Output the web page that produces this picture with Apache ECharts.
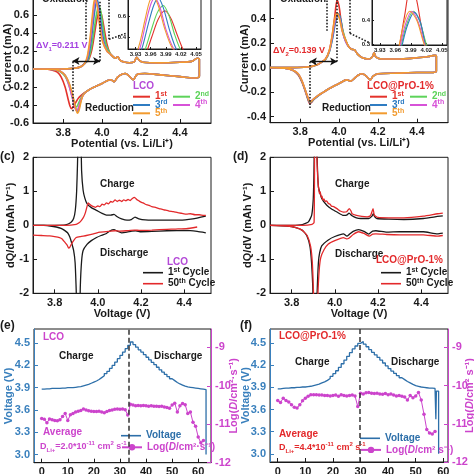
<!DOCTYPE html>
<html>
<head>
<meta charset="utf-8">
<title>CV, dQ/dV and GITT</title>
<script src="https://cdn.jsdelivr.net/npm/echarts@6.0.0/dist/echarts.min.js"></script>
<style>
  html, body { margin: 0; padding: 0; background: #fff; }
  #chart { width: 474px; height: 474px; }
</style>
</head>
<body>
<div id="chart"></div>
<script>
const FONT = "'Liberation Sans', Arial, sans-serif";

// ---------- tick values ----------
const cvTicksX = [3.8, 4.0, 4.2, 4.4];
const cvTicksYA = [-0.6, -0.4, -0.2, 0, 0.2, 0.4, 0.6];
const cvTicksYB = [-0.4, -0.2, 0, 0.2, 0.4];
const insetTicksX = [3.93, 3.96, 3.99, 4.02, 4.05];
const insetTicksYA = [0.4, 0.6];
const insetTicksYB = [0.3, 0.4];
const dqTicksY = [-2, -1, 0, 1, 2];
const gittTicksX = [0, 10, 20, 30, 40, 50, 60];
const voltTicks = [3.0, 3.3, 3.6, 3.9, 4.2, 4.5];
const logTicks = [-12, -11, -10, -9];

// ---------- (a) CV of LCO, cycles 1-5 ----------
const cycleNames = ['1st', '2nd', '3rd', '4th', '5th'];
const cycleColors = ['#e4322b', '#5dd35a', '#2f7cc2', '#d752d8', '#f29b2f'];

const aStart = [[3.645, 0], [3.75, 0], [3.82, 0.002], [3.86, 0.008], [3.89, 0.025], [3.91, 0.06]];
const aOx1 = [[3.93, 0.1], [3.948, 0.22], [3.962, 0.4], [3.975, 0.57], [3.988, 0.65], [4.0, 0.58], [4.013, 0.42], [4.026, 0.27], [4.04, 0.18]];
const aOx2 = [[3.93, 0.11], [3.947, 0.26], [3.96, 0.45], [3.973, 0.63], [3.985, 0.7], [3.996, 0.61], [4.008, 0.42], [4.022, 0.26], [4.04, 0.18]];
const aOx3 = [[3.928, 0.12], [3.943, 0.3], [3.955, 0.52], [3.966, 0.7], [3.975, 0.77], [3.985, 0.68], [3.998, 0.46], [4.012, 0.28], [4.03, 0.19], [4.04, 0.17]];
const aOx4 = [[3.925, 0.13], [3.94, 0.32], [3.951, 0.55], [3.961, 0.72], [3.968, 0.77], [3.978, 0.69], [3.99, 0.48], [4.005, 0.3], [4.025, 0.2], [4.04, 0.17]];
const aOx5 = [[3.924, 0.14], [3.938, 0.34], [3.949, 0.57], [3.958, 0.74], [3.965, 0.78], [3.975, 0.7], [3.988, 0.48], [4.003, 0.3], [4.025, 0.2], [4.04, 0.17]];
const aTail = [[4.055, 0.14], [4.068, 0.12], [4.08, 0.135], [4.092, 0.1], [4.11, 0.08], [4.14, 0.07], [4.165, 0.08], [4.178, 0.13],
  [4.19, 0.1], [4.21, 0.075], [4.3, 0.068], [4.4, 0.075], [4.46, 0.085], [4.49, 0.12], [4.5, 0.11], [4.5, -0.08], [4.47, -0.1],
  [4.4, -0.085], [4.3, -0.065], [4.22, -0.05], [4.18, -0.06], [4.16, -0.12], [4.14, -0.08], [4.12, -0.05], [4.1, -0.06],
  [4.08, -0.09], [4.062, -0.14], [4.045, -0.12], [4.0, -0.16], [3.95, -0.21], [3.92, -0.25]];
const aRed1 = [[3.9, -0.28], [3.88, -0.32], [3.865, -0.37], [3.852, -0.42], [3.843, -0.44], [3.835, -0.41], [3.825, -0.33], [3.81, -0.2], [3.79, -0.09], [3.77, -0.035], [3.74, -0.01], [3.7, 0], [3.645, 0]];
const aRed2 = [[3.9, -0.29], [3.885, -0.35], [3.873, -0.41], [3.866, -0.42], [3.857, -0.39], [3.845, -0.3], [3.83, -0.18], [3.81, -0.08], [3.785, -0.03], [3.75, -0.005], [3.645, 0]];
const aRed3 = [[3.9, -0.3], [3.888, -0.38], [3.878, -0.46], [3.871, -0.47], [3.862, -0.42], [3.848, -0.3], [3.83, -0.16], [3.81, -0.07], [3.785, -0.025], [3.75, -0.005], [3.645, 0]];
const aRed4 = [[3.9, -0.3], [3.886, -0.38], [3.875, -0.45], [3.868, -0.46], [3.858, -0.41], [3.845, -0.3], [3.828, -0.17], [3.81, -0.07], [3.785, -0.025], [3.75, -0.005], [3.645, 0]];
const aRed5 = [[3.9, -0.3], [3.889, -0.39], [3.88, -0.47], [3.874, -0.49], [3.866, -0.45], [3.852, -0.32], [3.833, -0.17], [3.81, -0.07], [3.785, -0.025], [3.75, -0.005], [3.645, 0]];

// ---------- (b) CV of LCO@PrO-1%, cycles 1-5 ----------
const bStart = [[3.645, 0], [3.75, 0], [3.82, 0.003], [3.86, 0.01], [3.89, 0.025], [3.91, 0.045]];
const bOx1 = [[3.93, 0.07], [3.95, 0.14], [3.965, 0.26], [3.978, 0.42], [3.99, 0.55], [4.0, 0.5], [4.012, 0.36], [4.025, 0.26], [4.04, 0.2]];
const bOx2 = [[3.93, 0.065], [3.95, 0.13], [3.966, 0.24], [3.98, 0.37], [3.995, 0.44], [4.007, 0.4], [4.02, 0.3], [4.035, 0.22]];
const bOx3 = [[3.93, 0.065], [3.95, 0.13], [3.967, 0.24], [3.982, 0.37], [3.997, 0.435], [4.009, 0.39], [4.02, 0.28], [4.035, 0.21]];
const bOx4 = [[3.93, 0.067], [3.95, 0.135], [3.965, 0.25], [3.979, 0.38], [3.992, 0.44], [4.005, 0.39], [4.018, 0.29], [4.035, 0.21]];
const bOx5 = [[3.93, 0.068], [3.95, 0.14], [3.964, 0.26], [3.977, 0.39], [3.988, 0.44], [4.002, 0.4], [4.016, 0.3], [4.035, 0.22]];
const bTail = [[4.05, 0.17], [4.065, 0.15], [4.08, 0.145], [4.095, 0.11], [4.12, 0.08], [4.15, 0.07], [4.17, 0.085], [4.18, 0.12],
  [4.19, 0.085], [4.22, 0.07], [4.3, 0.07], [4.4, 0.08], [4.46, 0.09], [4.49, 0.1], [4.5, 0.095], [4.5, -0.03], [4.47, -0.04],
  [4.4, -0.04], [4.3, -0.045], [4.2, -0.05], [4.175, -0.07], [4.16, -0.1], [4.14, -0.07], [4.12, -0.05], [4.1, -0.06],
  [4.08, -0.085], [4.06, -0.11], [4.04, -0.1], [4.0, -0.13], [3.95, -0.17], [3.92, -0.2]];
const bRed1 = [[3.89, -0.23], [3.87, -0.26], [3.858, -0.285], [3.85, -0.295], [3.842, -0.27], [3.83, -0.21], [3.81, -0.12], [3.79, -0.06], [3.76, -0.02], [3.72, -0.005], [3.645, 0]];
const bRed2 = [[3.89, -0.23], [3.87, -0.255], [3.858, -0.275], [3.852, -0.28], [3.844, -0.265], [3.83, -0.2], [3.81, -0.115], [3.79, -0.055], [3.76, -0.02], [3.72, -0.005], [3.645, 0]];
const bRed3 = [[3.89, -0.235], [3.87, -0.26], [3.858, -0.28], [3.852, -0.285], [3.844, -0.27], [3.83, -0.205], [3.81, -0.115], [3.79, -0.055], [3.76, -0.02], [3.72, -0.005], [3.645, 0]];
const bRed4 = [[3.89, -0.23], [3.87, -0.255], [3.858, -0.27], [3.853, -0.275], [3.845, -0.26], [3.83, -0.2], [3.81, -0.11], [3.79, -0.05], [3.76, -0.02], [3.72, -0.005], [3.645, 0]];
const bRed5 = [[3.89, -0.23], [3.87, -0.255], [3.858, -0.275], [3.853, -0.28], [3.845, -0.265], [3.83, -0.2], [3.81, -0.11], [3.79, -0.05], [3.76, -0.02], [3.72, -0.005], [3.645, 0]];

// ---------- (c) dQ/dV of LCO ----------
const c1Charge = [[3.7, 0], [3.8, 0], [3.85, 0.01], [3.875, 0.08], [3.888, 0.2], [3.896, 0.45], [3.902, 1.0], [3.906, 1.8], [3.909, 2.6],
  [3.915, 3], [3.922, 2.6], [3.925, 1.6], [3.932, 1.03], [3.94, 0.8], [3.95, 0.64], [3.97, 0.52], [3.994, 0.44], [4.02, 0.35],
  [4.04, 0.3], [4.06, 0.3], [4.075, 0.32], [4.09, 0.25], [4.11, 0.19], [4.135, 0.15], [4.155, 0.17], [4.172, 0.24], [4.19, 0.19],
  [4.22, 0.16], [4.29, 0.15], [4.38, 0.15], [4.44, 0.19], [4.5, 0.27]];
const c50Charge = [[3.7, 0], [3.85, 0], [3.9, 0.03], [3.915, 0.08], [3.925, 0.15], [3.935, 0.25], [3.943, 0.38], [3.95, 0.55],
  [3.955, 0.66], [3.962, 0.62], [3.97, 0.58], [3.98, 0.55], [3.99, 0.53], [4.0, 0.57], [4.01, 0.55], [4.02, 0.62], [4.03, 0.6],
  [4.04, 0.66], [4.05, 0.63], [4.06, 0.7], [4.07, 0.68], [4.08, 0.75], [4.09, 0.7], [4.1, 0.74], [4.11, 0.7], [4.12, 0.75],
  [4.13, 0.72], [4.14, 0.76], [4.15, 0.73], [4.16, 0.79], [4.17, 0.82], [4.18, 0.76], [4.19, 0.72], [4.2, 0.68], [4.21, 0.66],
  [4.22, 0.62], [4.23, 0.6], [4.24, 0.58], [4.25, 0.55], [4.27, 0.52], [4.29, 0.48], [4.31, 0.45], [4.33, 0.42], [4.35, 0.4],
  [4.37, 0.37], [4.39, 0.35], [4.41, 0.33], [4.43, 0.34], [4.45, 0.31], [4.47, 0.31], [4.49, 0.29], [4.5, 0.29]];
const c1Discharge = [[4.5, -0.22], [4.46, -0.18], [4.41, -0.15], [4.32, -0.16], [4.25, -0.18], [4.2, -0.19], [4.175, -0.16],
  [4.157, -0.17], [4.135, -0.2], [4.11, -0.22], [4.09, -0.17], [4.075, -0.13], [4.055, -0.17], [4.04, -0.24], [4.015, -0.3],
  [3.994, -0.36], [3.97, -0.45], [3.95, -0.56], [3.932, -0.74], [3.925, -1.05], [3.919, -1.8], [3.915, -3], [3.905, -3],
  [3.9, -1.9], [3.895, -1.1], [3.888, -0.74], [3.878, -0.5], [3.87, -0.34], [3.86, -0.22], [3.846, -0.15], [3.83, -0.09],
  [3.808, -0.05], [3.78, -0.02], [3.75, -0.005], [3.7, 0]];
const c50Discharge = [[4.46, -0.05], [4.41, -0.1], [4.36, -0.11], [4.32, -0.12], [4.25, -0.14], [4.195, -0.15], [4.17, -0.14],
  [4.13, -0.16], [4.1, -0.17], [4.08, -0.16], [4.05, -0.18], [4.01, -0.2], [3.98, -0.25], [3.947, -0.3], [3.92, -0.33],
  [3.9, -0.36], [3.888, -0.45], [3.878, -0.55], [3.87, -0.65], [3.865, -0.67], [3.858, -0.58], [3.846, -0.49], [3.835, -0.4],
  [3.823, -0.36], [3.8, -0.33], [3.777, -0.31], [3.74, -0.3], [3.7, -0.29]];

// ---------- (d) dQ/dV of LCO@PrO-1% ----------
const d1Charge = [[3.7, 0], [3.8, 0], [3.85, 0.02], [3.878, 0.1], [3.893, 0.3], [3.9, 0.74], [3.903, 1.4], [3.905, 2.2], [3.908, 3],
  [3.914, 3], [3.918, 2.0], [3.924, 1.13], [3.94, 0.78], [3.963, 0.59], [3.985, 0.48], [4.01, 0.39], [4.04, 0.29], [4.055, 0.3],
  [4.066, 0.36], [4.078, 0.29], [4.1, 0.22], [4.12, 0.2], [4.157, 0.2], [4.172, 0.27], [4.178, 0.34], [4.185, 0.25], [4.195, 0.2],
  [4.25, 0.18], [4.32, 0.17], [4.41, 0.2], [4.475, 0.26], [4.5, 0.28]];
const d50Charge = [[3.7, 0], [3.8, 0], [3.85, 0], [3.895, 0.03], [3.904, 0.08], [3.906, 1.5], [3.907, 3], [3.914, 3], [3.917, 2.0],
  [3.922, 1.3], [3.929, 0.93], [3.933, 0.98], [3.937, 0.82], [3.941, 0.86], [3.944, 0.74], [3.95, 0.78], [3.955, 0.7],
  [3.962, 0.72], [3.97, 0.64], [3.978, 0.62], [3.985, 0.56], [3.995, 0.55], [4.01, 0.49], [4.025, 0.42], [4.04, 0.39],
  [4.055, 0.4], [4.067, 0.49], [4.075, 0.42], [4.08, 0.34], [4.1, 0.29], [4.125, 0.26], [4.15, 0.25], [4.165, 0.28],
  [4.172, 0.4], [4.177, 0.49], [4.183, 0.3], [4.2, 0.23], [4.25, 0.22], [4.32, 0.22], [4.41, 0.27], [4.475, 0.34], [4.5, 0.36]];
const d1Discharge = [[4.5, -0.23], [4.475, -0.25], [4.41, -0.19], [4.3, -0.19], [4.24, -0.2], [4.19, -0.16], [4.175, -0.17],
  [4.157, -0.26], [4.135, -0.18], [4.11, -0.13], [4.085, -0.18], [4.068, -0.26], [4.056, -0.32], [4.04, -0.25], [4.0, -0.33],
  [3.97, -0.43], [3.94, -0.6], [3.93, -0.8], [3.924, -1.1], [3.918, -2], [3.914, -3], [3.903, -3], [3.898, -1.8], [3.893, -1.15],
  [3.885, -0.62], [3.87, -0.3], [3.85, -0.15], [3.82, -0.07], [3.78, -0.02], [3.7, 0]];
const d50Discharge = [[4.5, -0.3], [4.475, -0.32], [4.41, -0.28], [4.3, -0.28], [4.24, -0.27], [4.19, -0.25], [4.175, -0.26],
  [4.16, -0.32], [4.135, -0.24], [4.11, -0.19], [4.085, -0.27], [4.065, -0.38], [4.055, -0.4], [4.04, -0.36], [4.0, -0.45],
  [3.97, -0.55], [3.95, -0.72], [3.935, -0.95], [3.928, -1.3], [3.922, -2], [3.918, -3], [3.906, -3], [3.901, -1.9],
  [3.896, -1.1], [3.888, -0.62], [3.872, -0.3], [3.85, -0.15], [3.82, -0.07], [3.78, -0.02], [3.7, 0]];

// ---------- (e) GITT of LCO: one value per titration step ----------
const eVolt = [3.88, 3.885, 3.885, 3.89, 3.89, 3.89, 3.89, 3.895, 3.895, 3.9, 3.9, 3.9, 3.905,
  3.91, 3.915, 3.925, 3.935, 3.945, 3.96, 3.975, 3.99, 4.01, 4.035, 4.06, 4.09, 4.12, 4.16, 4.2, 4.245, 4.29, 4.335, 4.38, 4.425, 4.47, 4.515,
  4.48, 4.445, 4.41, 4.38, 4.345, 4.31, 4.275, 4.24, 4.21, 4.175, 4.14, 4.11, 4.08, 4.05, 4.02, 3.995, 3.97, 3.95, 3.935, 3.92,
  3.91, 3.905, 3.9, 3.895, 3.89, 3.885, 3.88, 3.875];
const eVoltEnd = [[63, 3.0]];
const eLogD = [-10.85, -10.87, -10.96, -10.86, -10.88, -10.9, -10.91, -10.88, -10.8, -10.72, -10.9, -10.75, -10.72, -10.68,
  -10.66, -10.64, -10.6, -10.63, -10.65, -10.66, -10.67, -10.67, -10.66, -10.68, -10.7, -10.67, -10.64, -10.63, -10.61, -10.6,
  -10.61, -10.6, -10.62, -10.76, -10.48, -10.5, -10.52, -10.51, -10.52, -10.51, -10.52, -10.53, -10.52, -10.53, -10.53, -10.54,
  -10.53, -10.55, -10.56, -10.58, -10.5, -10.45, -10.68, -10.52, -10.46, -10.49, -10.72, -10.68, -10.95, -11.05, -11.33, -11.48, -11.42];

// ---------- (f) GITT of LCO@PrO-1% ----------
const fVolt = [3.88, 3.885, 3.89, 3.89, 3.895, 3.895, 3.9, 3.9, 3.905, 3.905, 3.91, 3.915, 3.925,
  3.935, 3.945, 3.96, 3.975, 3.995, 4.02, 4.05, 4.085, 4.125, 4.17, 4.22, 4.27, 4.32, 4.37, 4.42, 4.46, 4.495, 4.52,
  4.485, 4.45, 4.41, 4.375, 4.34, 4.305, 4.27, 4.23, 4.19, 4.155, 4.12, 4.09, 4.06, 4.03, 4.005, 3.98, 3.96, 3.94, 3.925,
  3.915, 3.905, 3.9, 3.895, 3.89, 3.89, 3.885, 3.88];
const fVoltEnd = [[57.3, 3.47], [57.5, 3.85], [58.3, 3.85], [58.3, 3.0]];
const fLogD = [-10.39, -10.44, -10.33, -10.39, -10.43, -10.5, -10.57, -10.59, -10.5, -10.4, -10.33, -10.28, -10.24, -10.24,
  -10.24, -10.25, -10.25, -10.26, -10.26, -10.27, -10.26, -10.25, -10.28, -10.24, -10.26, -10.27, -10.26, -10.25, -10.27,
  -10.55, -10.2, -10.22, -10.19, -10.18, -10.2, -10.21, -10.2, -10.22, -10.23, -10.21, -10.24, -10.22, -10.25, -10.27,
  -10.26, -10.28, -10.3, -10.38, -10.26, -10.32, -10.27, -10.18, -10.38, -10.75, -11.15, -11.24, -11.27, -11.2];

// ---------- colours ----------
const BLACK = '#1a1a1a';
const RED = '#e3292b';
const PURPLE = '#a340e0';
const MAGENTA = '#cc44cc';
const VOLT_BLUE = '#2d6fa9';
const AXIS_BLUE = '#3a80bd';

const aCycles = [[aOx1, aRed1], [aOx2, aRed2], [aOx3, aRed3], [aOx4, aRed4], [aOx5, aRed5]];
const bCycles = [[bOx1, bRed1], [bOx2, bRed2], [bOx3, bRed3], [bOx4, bRed4], [bOx5, bRed5]];

function font(size) {
  return { fontFamily: FONT, fontWeight: 'bold', fontSize: size };
}

function valueAxis(grid, min, max, ticks, digits, opts) {
  const o = opts || {};
  const color = o.color || BLACK;
  const size = o.size || 11;
  return Object.assign({
    type: 'value', gridIndex: grid, min: min, max: max,
    axisLine: { show: true, onZero: false, lineStyle: { color: color, width: 1 } },
    axisTick: { show: true, inside: true, length: o.tick || 4, customValues: ticks, lineStyle: { color: color } },
    axisLabel: Object.assign({ customValues: ticks, margin: o.margin || 4, color: color,
      formatter: v => v.toFixed(digits) }, font(size)),
    splitLine: { show: false },
    nameLocation: 'middle', nameMoveOverlap: false,
    nameTextStyle: Object.assign({ color: color }, font(11)),
  }, o.extra || {});
}

const chart = echarts.init(document.getElementById('chart'), null, { renderer: 'canvas' });

const series = [];

// CV panels (a) and (b) + their insets
function addCv(prefix, start, cycles, tail, mainAxis, insetAxis) {
  cycles.forEach((c, i) => {
    const data = start.concat(c[0], tail, c[1]);
    series.push({
      type: 'line', name: prefix + ':' + cycleNames[i], xAxisIndex: mainAxis, yAxisIndex: mainAxis,
      data: data, smooth: 0.3, symbol: 'none', lineStyle: { color: cycleColors[i], width: 1.6 },
      itemStyle: { color: cycleColors[i] },
    });
    series.push({
      type: 'line', name: prefix + '-inset' + i, xAxisIndex: insetAxis, yAxisIndex: insetAxis,
      data: data, smooth: 0.3, symbol: 'none', lineStyle: { color: cycleColors[i], width: 1.1 },
    });
  });
}
addCv('a', aStart, aCycles, aTail, 0, 1);
addCv('b', bStart, bCycles, bTail, 2, 3);

const dotted = { type: 'dotted', color: '#222', width: 1.6 };
function dotLine(p, q) {
  return [{ coord: p, lineStyle: dotted }, { coord: q }];
}
function arrowLine(p, q) {
  return [{ coord: p, symbol: 'arrow', symbolSize: [6, 7], lineStyle: { color: '#111', width: 1.4, type: 'solid' } },
    { coord: q, symbol: 'arrow', symbolSize: [6, 7] }];
}
series[0].markLine = {
  silent: true, symbol: 'none', label: { show: false }, animation: false,
  data: [
    dotLine([3.848, -0.47], [3.848, 0.09]), dotLine([3.99, 0.09], [3.99, 0.85]),
    dotLine([3.917, 0.33], [3.917, 0.85]), dotLine([4.036, 0.33], [4.036, 0.85]),
    dotLine([4.036, 0.33], [4.127, 0.4]), arrowLine([3.848, 0.09], [3.99, 0.09]),
  ],
};
series[10].markLine = {
  silent: true, symbol: 'none', label: { show: false }, animation: false,
  data: [
    dotLine([3.85, -0.33], [3.85, 0.05]), dotLine([3.99, 0.05], [3.99, 0.6]),
    dotLine([3.936, 0.3], [3.936, 0.6]), dotLine([4.056, 0.28], [4.056, 0.6]),
    dotLine([4.056, 0.28], [4.16, 0.2]), arrowLine([3.85, 0.05], [3.99, 0.05]),
  ],
};

// dQ/dV panels
function dqSeries(name, axis, data, color) {
  series.push({ type: 'line', name: name, xAxisIndex: axis, yAxisIndex: axis, data: data, smooth: 0.15,
    symbol: 'none', lineStyle: { color: color, width: 1.3 }, itemStyle: { color: color } });
}
dqSeries('c1', 4, c1Charge, BLACK);
dqSeries('c1', 4, c1Discharge, BLACK);
dqSeries('c50', 4, c50Charge, RED);
dqSeries('c50', 4, c50Discharge, RED);
dqSeries('d1', 5, d1Charge, BLACK);
dqSeries('d1', 5, d1Discharge, BLACK);
dqSeries('d50', 5, d50Charge, RED);
dqSeries('d50', 5, d50Discharge, RED);

// GITT panels
function gitt(tag, xAxis, yLeft, yRight, volt, voltEnd, logD, cut) {
  series.push({
    type: 'line', name: 'volt' + tag, xAxisIndex: xAxis, yAxisIndex: yLeft, step: 'end',
    data: volt.map((v, i) => [i, v]).concat(voltEnd), symbol: 'none',
    lineStyle: { color: VOLT_BLUE, width: 1.3 }, itemStyle: { color: VOLT_BLUE },
    markLine: { silent: true, symbol: 'none', label: { show: false }, animation: false,
      lineStyle: { color: '#333', width: 1.5, type: [5, 3] }, data: [{ xAxis: cut }] },
  });
  series.push({
    type: 'line', name: 'log' + tag, xAxisIndex: xAxis, yAxisIndex: yRight,
    data: logD.map((v, i) => [i, v]), symbol: 'circle', symbolSize: 3.5,
    lineStyle: { color: MAGENTA, width: 1 }, itemStyle: { color: MAGENTA },
  });
}
gitt('E', 6, 6, 7, eVolt, eVoltEnd, eLogD, 33.5);
gitt('F', 7, 8, 9, fVolt, fVoltEnd, fLogD, 29.8);

// ---------- grids ----------
const grids = [
  { left: 33, top: -8, width: 178, height: 131 },
  { left: 128, top: -2, width: 73, height: 51 },
  { left: 270, top: -6, width: 178, height: 128.7 },
  { left: 372, top: -2, width: 75, height: 47 },
  { left: 33, top: 157.3, width: 178, height: 136 },
  { left: 270, top: 157.3, width: 178, height: 136 },
  { left: 34, top: 329, width: 177, height: 133.7 },
  { left: 270, top: 329, width: 178, height: 133 },
].map(g => Object.assign({ show: true, borderColor: BLACK, borderWidth: 1, backgroundColor: '#fff',
  containLabel: false, outerBoundsMode: 'none' }, g));

const potName = 'Potential (vs. Li/Li⁺)';
const xAxes = [
  valueAxis(0, 3.645, 4.56, cvTicksX, 1, { extra: { name: potName, nameGap: 15 } }),
  valueAxis(1, 3.915, 4.06, insetTicksX, 2, { size: 6, tick: 2, margin: 2 }),
  valueAxis(2, 3.645, 4.56, cvTicksX, 1, { extra: { name: potName, nameGap: 15 } }),
  valueAxis(3, 3.915, 4.06, insetTicksX, 2, { size: 6, tick: 2, margin: 2 }),
  valueAxis(4, 3.7, 4.524, cvTicksX, 1, { extra: { name: 'Voltage (V)', nameGap: 15 } }),
  valueAxis(5, 3.7, 4.524, cvTicksX, 1, { extra: { name: 'Voltage (V)', nameGap: 15 } }),
  valueAxis(6, -2.95, 64.9, gittTicksX, 0),
  valueAxis(7, -2.8, 61.7, gittTicksX, 0),
];

const logName = '{a|Log(}{i|D}{a|/cm²·s⁻¹)}';
const logNameF = '{a|Log(}{i|D}{a|/cm² s⁻¹)}';
const logRich = {
  a: Object.assign({ color: MAGENTA }, font(11)),
  i: Object.assign({ color: MAGENTA, fontStyle: 'italic' }, font(11)),
};
const yAxes = [
  valueAxis(0, -0.6, 0.856, cvTicksYA, 1, { extra: { name: 'Current (mA)', nameGap: 20 } }),
  valueAxis(1, 0.29, 0.77, insetTicksYA, 1, { size: 6, tick: 2, margin: 2 }),
  valueAxis(2, -0.449, 0.6, cvTicksYB, 1, { extra: { name: 'Current (mA)', nameGap: 20 } }),
  valueAxis(3, 0.297, 0.496, insetTicksYB, 1, { size: 6, tick: 2, margin: 2 }),
  valueAxis(4, -2, 2, dqTicksY, 0, { extra: { name: 'dQ/dV (mAh V⁻¹)', nameGap: 17 } }),
  valueAxis(5, -2, 2, dqTicksY, 0, { extra: { name: 'dQ/dV (mAh V⁻¹)', nameGap: 17 } }),
  valueAxis(6, 2.89, 4.69, voltTicks, 1, { color: AXIS_BLUE, extra: { name: 'Voltage (V)', nameGap: 20 } }),
  valueAxis(6, -12, -8.52, logTicks, 0, { color: MAGENTA, extra: { position: 'right', name: logName, nameGap: 17,
    nameTextStyle: Object.assign({ color: MAGENTA, rich: logRich }, font(11)) } }),
  valueAxis(7, 2.89, 4.69, voltTicks, 1, { color: AXIS_BLUE, extra: { name: 'Voltage (V)', nameGap: 19 } }),
  valueAxis(7, -12, -8.52, logTicks, 0, { color: MAGENTA, extra: { position: 'right', name: logNameF, nameGap: 16,
    nameTextStyle: Object.assign({ color: MAGENTA, rich: logRich }, font(11)) } }),
];

// ---------- legends ----------
function supRich(color, size) {
  return {
    n: Object.assign({ color: color, lineHeight: 12 }, font(size)),
    s: Object.assign({ color: color, verticalAlign: 'top', lineHeight: 7 }, font(size - 3)),
  };
}
const legends = [];
const cvSlots = [[0, 0], [40, 0], [0, 8.3], [40, 8.3], [0, 16.6]];
[['a', 133], ['b', 370]].forEach(([p, x0]) => {
  cycleNames.forEach((c, i) => {
    legends.push({
      data: [p + ':' + c], left: x0 + cvSlots[i][0], top: 90.7 + cvSlots[i][1], padding: 0, itemGap: 0,
      icon: 'rect', itemWidth: 17, itemHeight: 2, selectedMode: false,
      formatter: n => '{n|' + n.charAt(2) + '}{s|' + n.slice(3) + '}',
      textStyle: { color: cycleColors[i], rich: supRich(cycleColors[i], 10) },
    });
  });
});
[['c', 143], ['d', 381]].forEach(([p, x0]) => {
  legends.push({
    data: [p + '1', p + '50'], left: x0, top: 266.7, orient: 'vertical', padding: 0, itemGap: 0,
    icon: 'rect', itemWidth: 20, itemHeight: 1.6, selectedMode: false,
    formatter: n => n.endsWith('50') ? '{n|50}{s|th}{n| Cycle}' : '{n|1}{s|st}{n| Cycle}',
    textStyle: { color: BLACK, rich: supRich(BLACK, 10) },
  });
});
const gittRich = {
  n: Object.assign({ lineHeight: 12 }, font(10)),
  i: Object.assign({ lineHeight: 12, fontStyle: 'italic' }, font(10)),
};
[['E', 121, 430.7, '/cm²·s⁻¹)'], ['F', 360, 433.3, '/cm² s⁻¹)']].forEach(([t, x0, y0, unit]) => {
  legends.push({
    data: ['volt' + t], left: x0, top: y0, padding: 0, itemGap: 0, icon: 'rect', itemWidth: 20, itemHeight: 1.6,
    selectedMode: false, formatter: () => '{n|Voltage}', textStyle: { color: VOLT_BLUE, rich: gittRich },
  });
  legends.push({
    data: ['log' + t], left: x0, top: y0 + 11.6, padding: 0, itemGap: 0, itemWidth: 20, itemHeight: 8,
    selectedMode: false, formatter: () => '{n|Log(}{i|D}{n|' + unit + '}', textStyle: { color: MAGENTA, rich: gittRich },
  });
});

// ---------- free text ----------
function txt(x, y, text, color, size, extra) {
  return { type: 'text', x: x, y: y, silent: true, z: 100,
    style: Object.assign({ text: text, fill: color, fontFamily: FONT, fontWeight: 'bold', fontSize: size,
      verticalAlign: 'middle', align: 'left' }, extra || {}) };
}
function richTxt(x, y, text, color, size) {
  const base = { fill: color, fontFamily: FONT, fontWeight: 'bold' };
  return txt(x, y, text, color, size, {
    rich: {
      b: Object.assign({ fontSize: size, lineHeight: 13 }, base),
      sub: Object.assign({ fontSize: size - 3, verticalAlign: 'bottom', lineHeight: 8 }, base),
      sup: Object.assign({ fontSize: size - 3, verticalAlign: 'top', lineHeight: 7 }, base),
    },
  });
}
const graphics = [
  txt(42, -1, 'Oxidation', BLACK, 10), txt(280, -1, 'Oxidation', BLACK, 10),
  richTxt(36, 46, '{b|ΔV}{sub|1}{b|=0.211 V}', PURPLE, 9),
  richTxt(273, 51, '{b|ΔV}{sub|2}{b|=0.139 V}', RED, 9),
  txt(85, 108, 'Reduction', BLACK, 10), txt(322, 108, 'Reduction', BLACK, 10),
  txt(133, 86, 'LCO', '#b44ad8', 10), txt(367, 86, 'LCO@PrO-1%', RED, 10),
  txt(0, 157, '(c)', BLACK, 12), txt(233, 157, '(d)', BLACK, 12),
  txt(0, 326, '(e)', BLACK, 12), txt(240, 326, '(f)', BLACK, 12),
  txt(100, 184, 'Charge', BLACK, 10), txt(100, 253, 'Discharge', BLACK, 10), txt(167, 262, 'LCO', '#b44ad8', 10),
  txt(335, 184, 'Charge', BLACK, 10), txt(335, 254, 'Discharge', BLACK, 10), txt(376, 260, 'LCO@PrO-1%', RED, 10),
  txt(43, 337, 'LCO', MAGENTA, 10), txt(59, 356, 'Charge', BLACK, 10), txt(154, 356, 'Discharge', BLACK, 10),
  txt(43, 432, 'Average', MAGENTA, 10),
  richTxt(40, 447, '{b|D}{sub|Li+}{b|=2.0*10}{sup|-11}{b| cm}{sup|2}{b| s}{sup|-1}', MAGENTA, 9),
  txt(279, 336, 'LCO@PrO-1%', RED, 10), txt(295, 362, 'Charge', BLACK, 10), txt(391, 362, 'Discharge', BLACK, 10),
  txt(279, 434, 'Average', RED, 10),
  richTxt(279, 448, '{b|D}{sub|Li+}{b|=4.4*10}{sup|-11}{b| cm}{sup|2}{b| s}{sup|-1}', RED, 9),
];

chart.setOption({
  animation: false,
  backgroundColor: '#fff',
  grid: grids,
  xAxis: xAxes,
  yAxis: yAxes,
  legend: legends,
  graphic: graphics,
  series: series,
});
</script>
</body>
</html>
